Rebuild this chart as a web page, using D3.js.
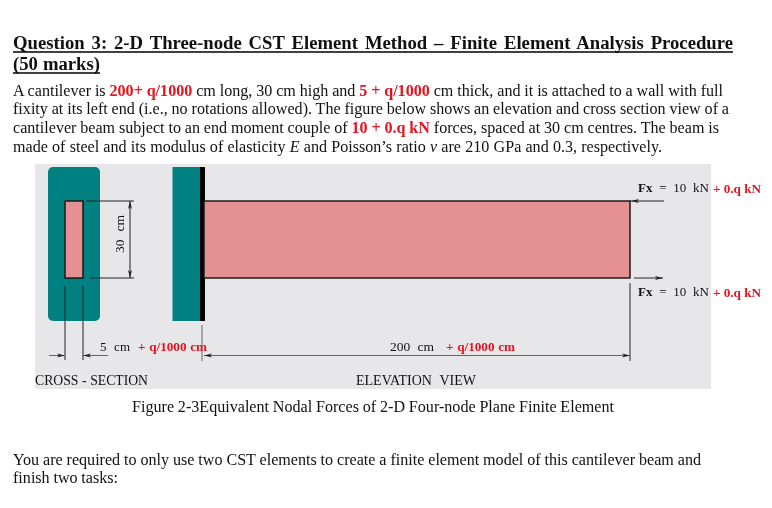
<!DOCTYPE html>
<html>
<head>
<meta charset="utf-8">
<script src="https://cdn.jsdelivr.net/npm/d3@7/dist/d3.min.js"></script>
<style>
html, body { margin: 0; padding: 0; background: #fff; }
svg { display: block; filter: blur(0.3px); }
text { font-family: "Liberation Serif", serif; fill: #111; }
</style>
</head>
<body>
<svg id="chart" width="772" height="508"></svg>
<script>
// values
var beamLength = 200;
var beamHeight = 30;
var beamThick = 5;
var forceBase = 10;

var RED = "#e8121f";
var TEAL = "#008080";
var PINK = "#e59093";

// each line is a list of [text, style] runs, n = normal, r = red bold, i = italic
var titleLines = [
	{x: 13, y: 48.5, w: 720, t: "Question 3: 2-D Three-node CST Element Method \u2013 Finite Element Analysis Procedure"},
	{x: 13, y: 69.5, w: 87, t: "(50 marks)"}
];
var bodyLines = [
	{x: 13, y: 96, w: 710, runs: [["A cantilever is ", "n"], ["200+ q/1000", "r"], [" cm long, 30 cm high and ", "n"], ["5 + q/1000", "r"], [" cm thick, and it is attached to a wall with full", "n"]]},
	{x: 13, y: 114, w: 716, runs: [["fixity at its left end (i.e., no rotations allowed). The figure below shows an elevation and cross section view of a", "n"]]},
	{x: 13, y: 133, w: 706, runs: [["cantilever beam subject to an end moment couple of ", "n"], ["10 + 0.q kN", "r"], [" forces, spaced at 30 cm centres. The beam is", "n"]]},
	{x: 13, y: 152, w: 649, runs: [["made of steel and its modulus of elasticity ", "n"], ["E", "i"], [" and Poisson\u2019s ratio ", "n"], ["\u03bd", "i"], [" are 210 GPa and 0.3, respectively.", "n"]]},
	{x: 132, y: 412, w: 482, runs: [["Figure 2-3Equivalent Nodal Forces of 2-D Four-node Plane Finite Element", "n"]]},
	{x: 13, y: 465, w: 688, runs: [["You are required to only use two CST elements to create a finite element model of this cantilever beam and", "n"]]},
	{x: 13, y: 483, w: 105, runs: [["finish two tasks:", "n"]]}
];

var svg = d3.select("#chart");

// scales in cm, elevation and section share the same vertical one
var xElev = d3.scaleLinear().domain([0, beamLength]).range([204, 630]);
var yBeam = d3.scaleLinear().domain([0, beamHeight]).range([201, 278]);
var xSect = d3.scaleLinear().domain([0, beamThick]).range([65, 83]);

function line(x1, y1, x2, y2, col, w)
{
	svg.append("line")
		.attr("x1", x1).attr("y1", y1).attr("x2", x2).attr("y2", y2)
		.attr("stroke", col || "#222")
		.attr("stroke-width", w || 1);
}
// small filled arrow head, tip at x,y, dir is the angle it points to
function arrow(x, y, dir)
{
	svg.append("path")
		.attr("d", "M0,0L-8,-2L-6,0L-8,2Z")
		.attr("transform", "translate(" + x + "," + y + ") rotate(" + dir + ")")
		.attr("fill", "#222");
}
// stretch only the gaps between words until the text is w wide
function fit(t, w)
{
	var n = t.text().split(" ").length - 1;
	if(n > 0) t.style("word-spacing", ((w - t.node().getComputedTextLength()) / n) + "px");
	return t;
}
function label(x, y, s, size, opt)
{
	opt = opt || {};
	var t = svg.append("text")
		.attr("x", x).attr("y", y)
		.attr("font-size", size)
		.attr("font-weight", opt.bold ? "bold" : null)
		.style("fill", opt.fill || null)
		.text(s);
	if(opt.w) fit(t, opt.w);
	return t;
}

// title, underline drawn by hand because the source rule is heavy
titleLines.forEach(function(d){
	label(d.x, d.y, d.t, 18.7, {bold: true, w: d.w});
	line(d.x, d.y + 3.5, d.x + d.w, d.y + 3.5, "#000", 1.7);
});

// paragraph lines
bodyLines.forEach(function(d){
	var t = svg.append("text")
		.attr("x", d.x).attr("y", d.y)
		.attr("font-size", 16.1);
	d.runs.forEach(function(r){
		var s = t.append("tspan").text(r[0]);
		if(r[1] == "r") s.attr("font-weight", "bold").style("fill", RED);
		if(r[1] == "i") s.attr("font-style", "italic");
	});
	fit(t, d.w);
});

// figure background
svg.append("rect").attr("x", 35).attr("y", 164).attr("width", 676).attr("height", 225).attr("fill", "#e7e7e9");

// wall, section view
svg.append("rect").attr("x", 48).attr("y", 167).attr("width", 52).attr("height", 154).attr("rx", 5).attr("fill", TEAL);
// wall, elevation view
svg.append("rect").attr("x", 172.5).attr("y", 167).attr("width", 28).attr("height", 154).attr("fill", TEAL);
svg.append("rect").attr("x", 200).attr("y", 167).attr("width", 5).attr("height", 154).attr("fill", "#000");

// beam section
svg.append("rect")
	.attr("x", xSect(0)).attr("y", yBeam(0))
	.attr("width", xSect(beamThick) - xSect(0))
	.attr("height", yBeam(beamHeight) - yBeam(0))
	.attr("fill", PINK).attr("stroke", "#111").attr("stroke-width", 1.4);

// beam elevation
svg.append("rect")
	.attr("x", xElev(0)).attr("y", yBeam(0))
	.attr("width", xElev(beamLength) - xElev(0))
	.attr("height", yBeam(beamHeight) - yBeam(0))
	.attr("fill", PINK).attr("stroke", "#111").attr("stroke-width", 1.4);

// 30 cm dimension
line(86, yBeam(0), 134, yBeam(0));
line(90, yBeam(beamHeight), 134, yBeam(beamHeight));
line(130, yBeam(0), 130, yBeam(beamHeight));
arrow(130, yBeam(0), -90);
arrow(130, yBeam(beamHeight), 90);
label(0, 0, beamHeight + " cm", 13.5, {w: 38})
	.attr("text-anchor", "middle")
	.attr("transform", "translate(124,234) rotate(-90)");

// 5 cm dimension
line(xSect(0), 286, xSect(0), 360);
line(xSect(beamThick), 286, xSect(beamThick), 360);
line(49, 355.5, xSect(0), 355.5, "#666");
line(xSect(beamThick), 355.5, 108, 355.5, "#666");
arrow(xSect(0), 355.5, 0);
arrow(xSect(beamThick), 355.5, 180);
label(100, 351, beamThick + " cm", 13, {w: 30});
label(138, 351, "+ q/1000 cm", 13.2, {bold: true, fill: RED, w: 69});

// 200 cm dimension
line(xElev(0) - 2, 325, xElev(0) - 2, 361, "#666");
line(xElev(beamLength), 283, xElev(beamLength), 361);
line(xElev(0), 355.5, xElev(beamLength), 355.5, "#666", 1.2);
arrow(xElev(0), 355.5, 180);
arrow(xElev(beamLength), 355.5, 0);
label(390, 351, beamLength + " cm", 13.5, {w: 44});
label(446, 351, "+ q/1000 cm", 13.2, {bold: true, fill: RED, w: 69});

// end couple
line(xElev(beamLength), yBeam(0), 664, yBeam(0));
arrow(xElev(beamLength) + 1, yBeam(0), 180);
line(634, yBeam(beamHeight), 663, yBeam(beamHeight));
arrow(663, yBeam(beamHeight), 0);
[192, 296].forEach(function(y){
	var t = label(638, y, null, 13);
	t.append("tspan").attr("font-weight", "bold").text("Fx");
	t.append("tspan").text(" = " + forceBase + " kN");
	fit(t, 71);
	label(713, y + 1, "+ 0.q kN", 13.2, {bold: true, fill: RED, w: 48});
});

// view names
label(35, 385, "CROSS - SECTION", 13.7, {w: 113});
label(356, 385, "ELEVATION VIEW", 14, {w: 120});
</script>
</body>
</html>
